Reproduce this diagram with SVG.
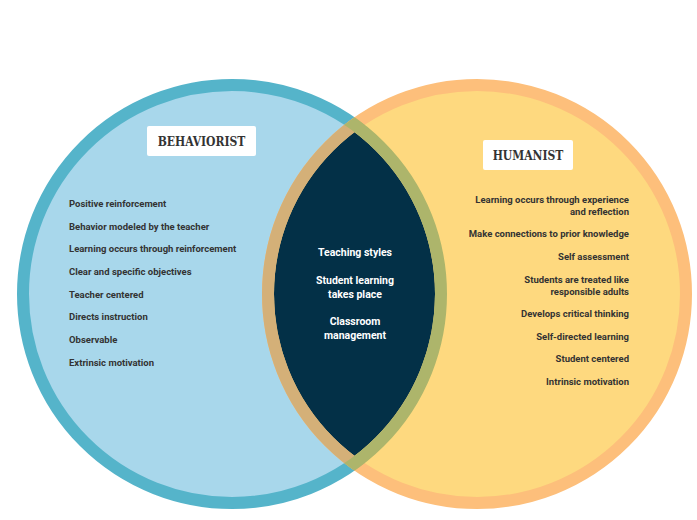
<svg xmlns="http://www.w3.org/2000/svg" width="697" height="520" viewBox="0 0 697 520">
<style>
.it{font-family:Roboto,"Liberation Sans",sans-serif;font-size:9.5px;font-weight:bold;fill:#333}
.r{text-anchor:end}
.c{font-family:Roboto,"Liberation Sans",sans-serif;font-size:10.5px;font-weight:bold;fill:#fff;text-anchor:middle}
.t{font-family:"DejaVu Serif Condensed","DejaVu Serif",serif;font-size:12px;font-weight:bold;fill:#333;text-anchor:middle}
</style>
<defs>
<clipPath id="inL"><circle cx="232" cy="294" r="215"/></clipPath>
<clipPath id="inR"><circle cx="477" cy="294" r="215"/></clipPath>
<clipPath id="inLi"><circle cx="232" cy="294" r="203"/></clipPath>
</defs>
<rect width="697" height="520" fill="#fff"/>
<g id="behaviorist">
<circle cx="232" cy="294" r="209" fill="#a8d7eb" stroke="#55b4ca" stroke-width="12"/>
</g>
<g id="humanist">
<circle cx="477" cy="294" r="209" fill="#fed97f" stroke="#fdbf7b" stroke-width="12"/>
</g>
<g id="overlap">
<circle cx="477" cy="294" r="203" fill="#033047" clip-path="url(#inLi)"/>
<circle cx="477" cy="294" r="209" fill="none" stroke="#d4b078" stroke-width="12" clip-path="url(#inL)"/>
<circle cx="232" cy="294" r="209" fill="none" stroke="#adb56b" stroke-width="12" clip-path="url(#inR)"/>
<text class="c" x="355" y="256">Teaching styles</text>
<text class="c" x="355" y="284">Student learning</text>
<text class="c" x="355" y="298">takes place</text>
<text class="c" x="355" y="325">Classroom</text>
<text class="c" x="355" y="339">management</text>
</g>
<g id="label-behaviorist">
<rect x="147" y="126" width="109" height="30" rx="2" fill="#fff"/>
<text class="t" x="201.5" y="146">BEHAVIORIST</text>
</g>
<g id="label-humanist">
<rect x="483" y="140" width="90" height="30" rx="2" fill="#fff"/>
<text class="t" x="528" y="160">HUMANIST</text>
</g>
<g id="behaviorist-items">
<text class="it" x="69" y="207">Positive reinforcement</text>
<text class="it" x="69" y="230">Behavior modeled by the teacher</text>
<text class="it" x="69" y="252">Learning occurs through reinforcement</text>
<text class="it" x="69" y="275">Clear and specific objectives</text>
<text class="it" x="69" y="298">Teacher centered</text>
<text class="it" x="69" y="320">Directs instruction</text>
<text class="it" x="69" y="343">Observable</text>
<text class="it" x="69" y="366">Extrinsic motivation</text>
</g>
<g id="humanist-items">
<text class="it r" x="629" y="203">Learning occurs through experience</text>
<text class="it r" x="629" y="215">and reflection</text>
<text class="it r" x="629" y="237">Make connections to prior knowledge</text>
<text class="it r" x="629" y="260">Self assessment</text>
<text class="it r" x="629" y="283">Students are treated like</text>
<text class="it r" x="629" y="295">responsible adults</text>
<text class="it r" x="629" y="317">Develops critical thinking</text>
<text class="it r" x="629" y="340">Self-directed learning</text>
<text class="it r" x="629" y="362">Student centered</text>
<text class="it r" x="629" y="385">Intrinsic motivation</text>
</g>
<g id="connectors"/>
</svg>
